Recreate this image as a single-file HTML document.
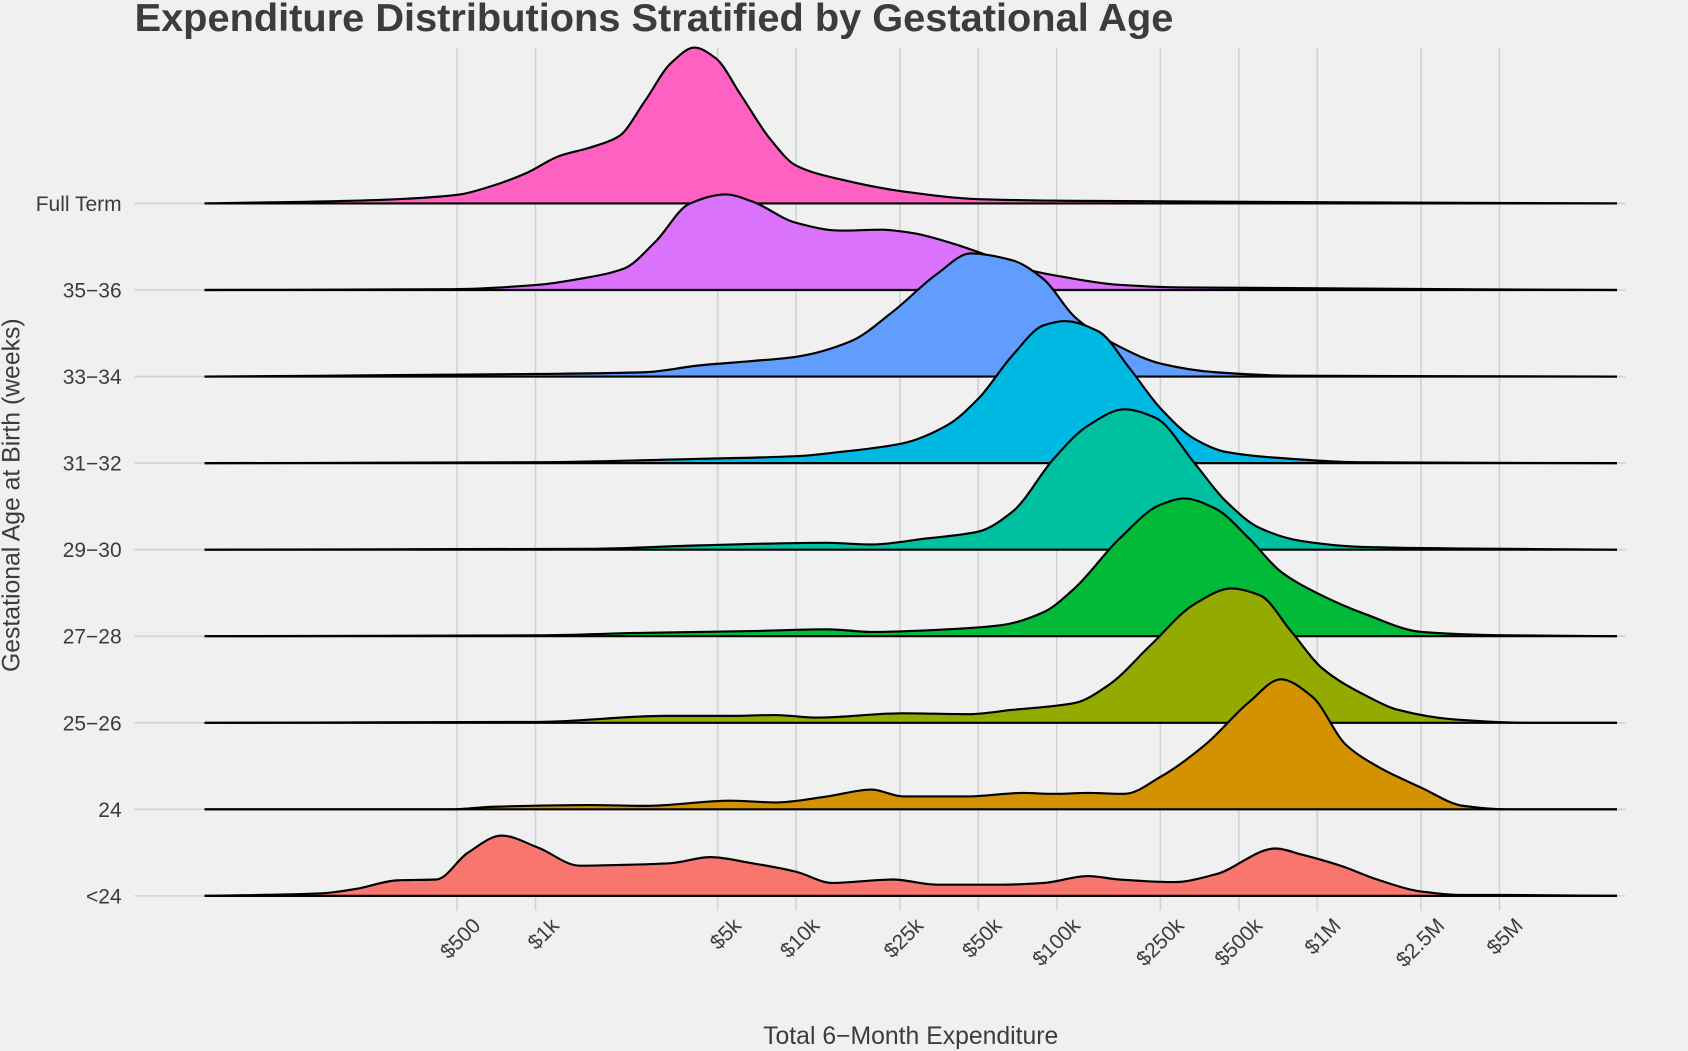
<!DOCTYPE html>
<html><head><meta charset="utf-8"><style>
html,body{margin:0;padding:0;background:#F0F0F0;}
svg{display:block;font-family:"Liberation Sans",sans-serif;}
</style></head><body>
<svg id="chart" width="1688" height="1051" viewBox="0 0 1568 976.3" preserveAspectRatio="none" xmlns="http://www.w3.org/2000/svg">
<rect x="0" y="0" width="1568" height="976.3" fill="#F0F0F0"/>
<g id="grid"></g>
<g id="ridges"></g>
<g id="ylabels"></g>
<g id="xlabels"></g>
<text x="125" y="29" font-size="36.5" font-weight="bold" fill="#3C3C3C" textLength="965" lengthAdjust="spacingAndGlyphs">Expenditure Distributions Stratified by Gestational Age</text>
<text x="846" y="970" font-size="23" fill="#3C3C3C" text-anchor="middle">Total 6−Month Expenditure</text>
<text transform="translate(18,460) rotate(-90)" font-size="23" fill="#3C3C3C" text-anchor="middle">Gestational Age at Birth (weeks)</text>
</svg>
<script>
// categories (top to bottom)
const groups = ["Full Term","35−36","33−34","31−32","29−30","27−28","25−26","24","<24"];
const colors = ["#FF61C3","#DB72FB","#619CFF","#00B9E3","#00C19F","#00BA38","#93AA00","#D39200","#F8766D"];
// x tick values (log10 dollars) and labels
const tickLogs = [2.699,3,3.699,4,4.398,4.699,5,5.398,5.699,6,6.398,6.699];
const tickLabels = ["$500","$1k","$5k","$10k","$25k","$50k","$100k","$250k","$500k","$1M","$2.5M","$5M"];
// density series: log10 expenditure and density (1.0 = one row spacing)
const ftX = [1.73,2.39,2.70,2.84,2.97,3.09,3.21,3.32,3.42,3.52,3.61,3.69,3.79,3.90,4.00,4.17,4.41,4.70,5.07,7.15];
const ftD = [0,.04,.10,.21,.36,.55,.65,.78,1.19,1.63,1.81,1.69,1.25,.75,.44,.28,.14,.05,.03,0];
const g35X = [1.73,2.68,3.01,3.17,3.34,3.46,3.59,3.73,3.83,4.00,4.17,4.33,4.45,4.58,4.70,4.87,5.03,5.24,5.49,7.15];
const g35D = [0,.01,.06,.13,.25,.56,1.0,1.11,1.03,.78,.69,.70,.66,.56,.44,.25,.15,.06,.03,0];
const g33X = [1.73,3.01,3.42,3.63,3.83,4.00,4.21,4.37,4.54,4.67,4.83,4.95,5.07,5.24,5.40,5.61,5.90,7.15];
const g33D = [0,.03,.05,.13,.18,.23,.41,.75,1.19,1.43,1.35,1.13,.69,.35,.15,.05,.01,0];
const g31X = [1.73,3.01,3.63,4.00,4.17,4.41,4.58,4.70,4.83,4.95,5.03,5.16,5.28,5.40,5.53,5.65,5.90,6.15,7.15];
const g31D = [0,.01,.05,.08,.13,.23,.44,.75,1.25,1.60,1.65,1.53,1.10,.63,.28,.13,.05,.01,0];
const g29X = [1.73,3.21,3.63,4.12,4.29,4.50,4.70,4.83,4.99,5.12,5.26,5.38,5.53,5.65,5.78,5.94,6.19,7.15];
const g29D = [0,.01,.05,.08,.06,.13,.21,.44,1.06,1.44,1.63,1.53,1.0,.56,.25,.10,.03,0];
const g27X = [1.73,3.01,3.42,3.83,4.12,4.29,4.58,4.79,4.95,5.07,5.24,5.40,5.49,5.61,5.74,5.86,6.00,6.19,6.40,6.73,7.15];
const g27D = [0,.01,.04,.06,.08,.05,.08,.13,.28,.56,1.13,1.53,1.60,1.48,1.13,.75,.50,.25,.05,.01,0];
const g25X = [1.73,3.01,3.50,3.75,3.92,4.08,4.41,4.66,4.83,5.07,5.20,5.36,5.53,5.67,5.78,5.90,6.02,6.19,6.31,6.52,6.81,7.15];
const g25D = [0,.01,.08,.08,.09,.06,.11,.10,.15,.23,.44,.90,1.38,1.56,1.48,1.06,.63,.31,.15,.04,0,0];
const g24X = [1.73,2.68,2.84,3.21,3.42,3.75,3.92,4.12,4.29,4.41,4.66,4.87,4.99,5.12,5.26,5.40,5.57,5.74,5.86,5.98,6.11,6.23,6.40,6.56,6.73,7.15];
const g24D = [0,0,.03,.05,.04,.10,.08,.15,.23,.15,.15,.19,.18,.19,.18,.38,.75,1.25,1.51,1.31,.75,.50,.25,.04,0,0];
const gLtX = [1.73,2.18,2.31,2.47,2.62,2.74,2.87,3.01,3.17,3.34,3.52,3.67,3.83,4.00,4.14,4.37,4.54,4.79,4.95,5.12,5.24,5.45,5.61,5.84,5.94,6.09,6.23,6.40,6.56,6.73,7.15];
const gLtD = [0,.03,.08,.18,.19,.50,.70,.56,.35,.36,.38,.45,.38,.28,.15,.19,.13,.13,.15,.23,.19,.16,.25,.55,.48,.35,.19,.05,.01,.01,0];
const seriesX = [ftX,g35X,g33X,g31X,g29X,g27X,g25X,g24X,gLtX];
const seriesD = [ftD,g35D,g33D,g31D,g29D,g27D,g25D,g24D,gLtD];

const NS = "http://www.w3.org/2000/svg";
const X0 = 190, X1 = 1502, L0 = 1.73, L1 = 7.15;
const xScale = l => X0 + (l - L0) / (L1 - L0) * (X1 - X0);
const rowTop = 189, rowStep = 80.4, dScale = 80;
const yBase = i => rowTop + i * rowStep;
function mk(tag, attrs, parent){const e=document.createElementNS(NS,tag);for(const k in attrs)e.setAttribute(k,attrs[k]);parent.appendChild(e);return e;}

const grid = document.getElementById('grid');
tickLogs.forEach((t,i)=>{
  const l = mk('line',{x1:xScale(t),x2:xScale(t),y1:44,y2:846,stroke:'#D2D2D2','stroke-width':1.5},grid);
  
  
});
groups.forEach((g,i)=>{
  const l = mk('line',{x1:125,x2:1510,y1:yBase(i),y2:yBase(i),stroke:'#D2D2D2','stroke-width':1.5},grid);
  
  
});

function monotonePath(px, py){
  const n=px.length, m=[], dx=[], s=[];
  for(let i=0;i<n-1;i++){dx[i]=px[i+1]-px[i];s[i]=(py[i+1]-py[i])/dx[i];}
  m[0]=s[0];m[n-1]=s[n-2];
  for(let i=1;i<n-1;i++){ if(s[i-1]*s[i]<=0) m[i]=0; else { const w1=2*dx[i]+dx[i-1], w2=dx[i]+2*dx[i-1]; m[i]=(w1+w2)/(w1/s[i-1]+w2/s[i]); } }
  let d='M'+px[0]+','+py[0];
  for(let i=0;i<n-1;i++){const h=dx[i]/3;d+=' C'+(px[i]+h)+','+(py[i]+m[i]*h)+' '+(px[i+1]-h)+','+(py[i+1]-m[i+1]*h)+' '+px[i+1]+','+py[i+1];}
  return d;
}

const ridges = document.getElementById('ridges');
groups.forEach((g,i)=>{
  const px = seriesX[i].map(xScale);
  const py = seriesD[i].map(d=>yBase(i)-d*dScale);
  const top = monotonePath(px,py);
  const fill = mk('path',{d:top+' L'+px[px.length-1]+','+yBase(i)+' L'+px[0]+','+yBase(i)+' Z',fill:colors[i],stroke:'none'},ridges);
  
  
  const line = mk('path',{d:top,fill:'none',stroke:'#000','stroke-width':2},ridges);
  
  
  const base = mk('line',{x1:X0,x2:X1,y1:yBase(i),y2:yBase(i),stroke:'#000','stroke-width':2},ridges);
  
  
});

const yl = document.getElementById('ylabels');
groups.forEach((g,i)=>{
  const t = mk('text',{x:113,y:yBase(i)+7,'font-size':19.5,fill:'#3C3C3C','text-anchor':'end'},yl);
  t.textContent = g;
  
  
});
const xl = document.getElementById('xlabels');
tickLogs.forEach((t,i)=>{
  const x = xScale(t)+23, y = 861;
  const e = mk('text',{x:x,y:y,'font-size':19.5,fill:'#3C3C3C','text-anchor':'end',transform:'rotate(-45 '+x+' '+y+')'},xl);
  e.textContent = tickLabels[i];
  
  
});
</script>
</body></html>
